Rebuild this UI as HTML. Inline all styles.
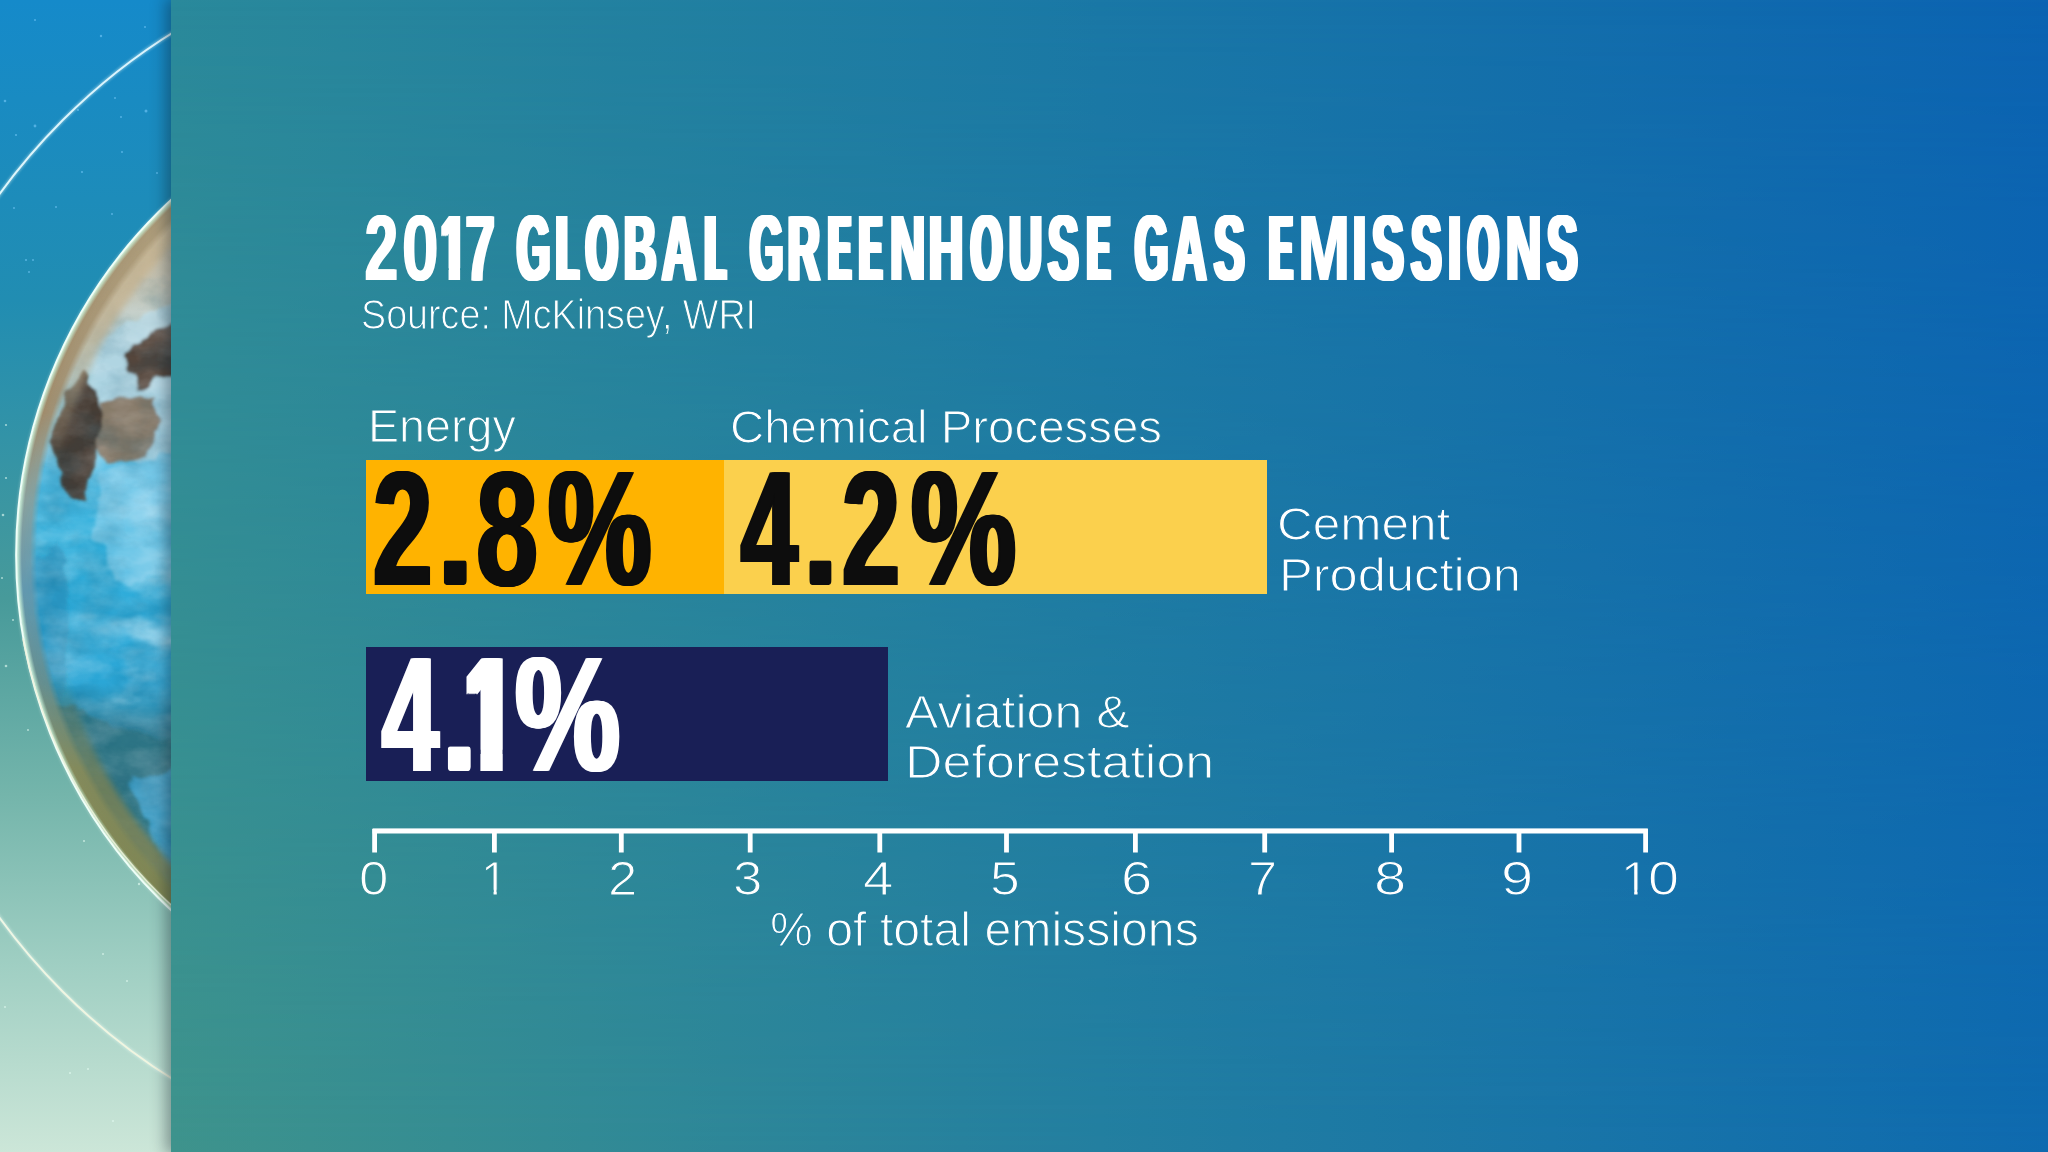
<!DOCTYPE html>
<html lang="en"><head><meta charset="utf-8"><title>2017 Global Greenhouse Gas Emissions</title>
<style>
html,body{margin:0;padding:0;background:#1a78a6;}
#stage{position:relative;width:2048px;height:1152px;overflow:hidden;font-family:'Liberation Sans',sans-serif;}
#bg{position:absolute;left:0;top:0;}
#panel{position:absolute;left:171px;top:0;width:1877px;height:1152px;
  background:linear-gradient(90deg,#2a899b 0%,#1a78a6 49.5%,#0b63b2 100%);box-shadow:-3px 0 14px 2px rgba(10,25,35,.40);}
#panel:after{content:"";position:absolute;inset:0;
  background:linear-gradient(90deg,#3e938c 0%,#237fa0 49.5%,#0e6aaf 100%);
  -webkit-mask-image:linear-gradient(180deg,transparent 0%,#000 100%);mask-image:linear-gradient(180deg,transparent 0%,#000 100%);}
.bar{position:absolute;}
.t{position:absolute;white-space:nowrap;line-height:1;transform-origin:0 0;color:#fff;font-weight:400;}
.g{position:absolute;white-space:nowrap;line-height:1;font-weight:700;word-spacing:0;letter-spacing:0;}
.g span{display:inline-block;vertical-align:baseline;transform-origin:0 0;}
#axis{position:absolute;left:0;top:0;}
</style></head><body>
<div id="stage">
<svg id="bg" width="2048" height="1152" viewBox="0 0 2048 1152">
<defs>
<linearGradient id="sky" x1="0" y1="0" x2="0" y2="1">
<stop offset="0" stop-color="#158aca"/><stop offset=".26" stop-color="#218db2"/><stop offset=".52" stop-color="#479a9a"/>
<stop offset=".69" stop-color="#74b5ab"/><stop offset=".84" stop-color="#a0cfc3"/><stop offset="1" stop-color="#cce6d8"/>
</linearGradient>
<radialGradient id="atm" cx="500.5" cy="555" r="484.1" gradientUnits="userSpaceOnUse">
<stop offset=".958" stop-color="#fff" stop-opacity="0"/><stop offset=".972" stop-color="#fff" stop-opacity=".9"/><stop offset=".988" stop-color="#fff" stop-opacity="1"/><stop offset="1" stop-color="#fff"/>
</radialGradient>
<radialGradient id="atm2" cx="500.5" cy="555" r="484.1" gradientUnits="userSpaceOnUse">
<stop offset=".989" stop-color="#c6f0d6" stop-opacity="0"/><stop offset=".996" stop-color="#c6f0d6" stop-opacity=".7"/><stop offset="1" stop-color="#dafbe8" stop-opacity=".9"/>
</radialGradient>
<mask id="am"><circle cx="500.5" cy="555" r="484.1" fill="url(#atm)"/></mask>
<linearGradient id="atmtint" x1="0" y1="200" x2="0" y2="910" gradientUnits="userSpaceOnUse">
<stop offset="0" stop-color="#ac9c7a"/><stop offset=".3" stop-color="#a08c6c"/><stop offset=".42" stop-color="#8aa09c"/><stop offset=".55" stop-color="#6398ae"/><stop offset=".68" stop-color="#688f8e"/><stop offset=".8" stop-color="#858b5c"/><stop offset="1" stop-color="#7f8652"/>
</linearGradient>
<linearGradient id="gbase" x1="0" y1="200" x2="0" y2="910" gradientUnits="userSpaceOnUse">
<stop offset="0" stop-color="#cdbb9f"/><stop offset=".12" stop-color="#c3c2b2"/><stop offset=".24" stop-color="#a9d2de"/>
<stop offset=".36" stop-color="#5cc0e6"/><stop offset=".48" stop-color="#32b0dc"/><stop offset=".68" stop-color="#2ba6d6"/><stop offset=".745" stop-color="#32829c"/>
<stop offset=".86" stop-color="#44796f"/><stop offset="1" stop-color="#5d7c5c"/>
</linearGradient>
<filter id="rough" x="-20%" y="-20%" width="140%" height="140%"><feTurbulence type="fractalNoise" baseFrequency=".03" numOctaves="3" seed="7" result="n"/><feDisplacementMap in="SourceGraphic" in2="n" scale="26" xChannelSelector="R" yChannelSelector="G"/><feGaussianBlur stdDeviation="1.8"/></filter>
<filter id="clouds" x="0" y="0" width="100%" height="100%"><feTurbulence type="fractalNoise" baseFrequency=".016 .034" numOctaves="4" seed="11"/><feColorMatrix type="matrix" values="0 0 0 0 .86  0 0 0 0 .95  0 0 0 0 1  2.3 0 0 0 -1.08"/><feGaussianBlur stdDeviation="1.2"/></filter>
<filter id="tex" x="0" y="0" width="100%" height="100%"><feTurbulence type="fractalNoise" baseFrequency=".022 .04" numOctaves="4" seed="3"/><feColorMatrix type="matrix" values="0 0 0 0 1  0 0 0 0 1  0 0 0 0 1  1.9 0 0 0 -.62"/></filter>
<filter id="texd" x="0" y="0" width="100%" height="100%"><feTurbulence type="fractalNoise" baseFrequency=".025 .035" numOctaves="4" seed="21"/><feColorMatrix type="matrix" values="0 0 0 0 0  0 0 0 0 .06  0 0 0 0 .12  0 1.9 0 0 -.68"/></filter>
<filter id="b4s" x="-5%" y="-5%" width="110%" height="110%"><feGaussianBlur stdDeviation="3"/></filter>
<filter id="b10" x="-40%" y="-40%" width="180%" height="180%"><feGaussianBlur stdDeviation="10"/></filter>
<filter id="g2" x="-10%" y="-10%" width="120%" height="120%"><feGaussianBlur stdDeviation="1.3"/></filter>
<linearGradient id="ringg" x1="0" y1="0" x2="0" y2="1152" gradientUnits="userSpaceOnUse"><stop offset="0" stop-color="#d8f3ff"/><stop offset=".45" stop-color="#e8fbf4"/><stop offset="1" stop-color="#f2f4dc"/></linearGradient>
<clipPath id="gc"><circle cx="500.5" cy="555" r="484.1"/></clipPath>
<clipPath id="strip"><rect width="176" height="1152"/></clipPath>
<linearGradient id="cmg" x1="0" x2="1"><stop offset=".15" stop-color="#555"/><stop offset=".8" stop-color="#fff"/></linearGradient><linearGradient id="limbg" x1="0" y1="200" x2="0" y2="910" gradientUnits="userSpaceOnUse"><stop offset="0" stop-color="#c9b896" stop-opacity=".95"/><stop offset=".17" stop-color="#c2b08e" stop-opacity=".75"/><stop offset=".38" stop-color="#b09a78" stop-opacity="0"/><stop offset=".66" stop-color="#6f7a50" stop-opacity="0"/><stop offset=".82" stop-color="#7a8154" stop-opacity=".8"/><stop offset="1" stop-color="#80865a" stop-opacity=".92"/></linearGradient>
<mask id="cm"><rect width="200" height="1152" fill="#000"/><rect x="0" y="300" width="200" height="420" fill="url(#cmg)" filter="url(#b10)"/></mask>
</defs>
<g clip-path="url(#strip)">
<rect width="200" height="1152" fill="url(#sky)"/>
<g fill="#7fcfff" opacity=".55">
<circle cx="35" cy="20" r="1"/><circle cx="101" cy="36" r="1.2"/><circle cx="145" cy="27" r="1"/><circle cx="5" cy="101" r="1.3"/><circle cx="35" cy="126" r="1.4"/><circle cx="16" cy="135" r="1.1"/><circle cx="146" cy="111" r="1.5"/><circle cx="121" cy="117" r="1"/><circle cx="115" cy="98" r="1"/><circle cx="122" cy="152" r="1"/><circle cx="82" cy="172" r="1.1"/><circle cx="14" cy="208" r="1"/><circle cx="56" cy="207" r="1"/><circle cx="26" cy="260" r="1.1"/><circle cx="33" cy="260" r="1"/><circle cx="29" cy="272" r="1"/><circle cx="112" cy="214" r="1"/><circle cx="78" cy="110" r="1"/><circle cx="157" cy="173" r="1"/>
</g>
<g fill="#e8fff6" opacity=".6">
<circle cx="6" cy="425" r="1.1"/><circle cx="6" cy="478" r="1.1"/><circle cx="3" cy="515" r="1.3"/><circle cx="2" cy="578" r="1"/><circle cx="13" cy="620" r="1"/><circle cx="6" cy="666" r="1.3"/><circle cx="28" cy="730" r="1"/><circle cx="84" cy="841" r="1.1"/><circle cx="139" cy="884" r="1.2"/><circle cx="103" cy="954" r="1"/><circle cx="127" cy="981" r="1"/><circle cx="5" cy="1007" r="1"/><circle cx="70" cy="1073" r="1.1"/><circle cx="88" cy="1069" r="1"/><circle cx="113" cy="1121" r="1"/>
</g>
<circle cx="498.7" cy="555.9" r="616.4" fill="none" stroke="#f2fff8" stroke-opacity=".35" stroke-width="4" filter="url(#g2)"/>
<circle cx="498.7" cy="555.9" r="616.4" fill="none" stroke="url(#ringg)" stroke-width="1.9"/>
<g clip-path="url(#gc)">
<rect x="0" y="190" width="200" height="730" fill="url(#gbase)"/>
<rect x="0" y="200" width="200" height="720" fill="#fff" filter="url(#clouds)" mask="url(#cm)" opacity=".62"/>
<g filter="url(#rough)">
<path d="M95 345 L180 300 L180 450 L150 462 L110 455 L92 420 Z" fill="#b2d6e4" opacity=".8"/>
<path d="M100 405 L150 392 L162 425 L150 455 L114 462 L96 445 Z" fill="#84725f" opacity=".92"/>
<path d="M66 392 L86 368 L97 392 L100 440 L90 478 L84 502 L68 490 L56 462 L58 425 Z" fill="#473d34"/>
<path d="M126 352 L180 316 L180 372 L150 376 L134 384 Z" fill="#4f3f34" opacity=".95"/>
<path d="M30 698 L180 744 L180 930 L30 930 Z" fill="#2f7686" opacity=".95"/>
<path d="M132 782 L180 770 L180 896 L168 888 L150 838 Z" fill="#3a9cc4"/>
<path d="M100 470 L180 455 L180 575 L128 590 L96 540 Z" fill="#8fd3ef" opacity=".55"/>
<path d="M30 560 L62 540 L70 640 L60 700 L30 700 Z" fill="#2a8cb8" opacity=".55"/>
</g>
<rect x="0" y="195" width="200" height="720" filter="url(#tex)" opacity=".2"/>
<rect x="0" y="195" width="200" height="720" filter="url(#texd)" opacity=".2"/>
<circle cx="500.5" cy="555" r="466" fill="none" stroke="url(#limbg)" stroke-width="30" filter="url(#b4s)"/>
<rect x="0" y="190" width="200" height="730" fill="url(#atmtint)" mask="url(#am)"/>
<circle cx="500.5" cy="555" r="484.1" fill="url(#atm2)"/>
</g>
<circle cx="500.5" cy="555" r="484.6" fill="none" stroke="#f4fff8" stroke-opacity=".22" stroke-width="3.4" filter="url(#g2)"/>
<circle cx="500.5" cy="555" r="484.4" fill="none" stroke="#effff8" stroke-width="1.9"/>
<path d="M19.5 640 A484.1 484.1 0 0 0 176 914" transform="translate(3.4 -1.6)" fill="none" stroke="#eef2da" stroke-opacity=".85" stroke-width="1.5"/>
</g>
</svg>

<div id="panel"></div>
<div class="bar" style="left:365.7px;top:460.2px;width:358.4px;height:134.2px;background:#ffb300"></div>
<div class="bar" style="left:724px;top:460.2px;width:542.9px;height:134.2px;background:#fbd04d"></div>
<div class="bar" style="left:365.8px;top:647.2px;width:522.2px;height:134.1px;background:#191f56"></div>
<svg id="axis" width="2048" height="1152" viewBox="0 0 2048 1152"><g fill="#fff"><rect x="372.6" y="828.4" width="1275.2" height="5.1"/><rect x="372.2" y="829" width="4.8" height="23.5"/><rect x="492.0" y="829" width="4.8" height="23.5"/><rect x="618.9" y="829" width="4.8" height="23.5"/><rect x="747.8" y="829" width="4.8" height="23.5"/><rect x="877.4" y="829" width="4.8" height="23.5"/><rect x="1004.1" y="829" width="4.8" height="23.5"/><rect x="1133.0" y="829" width="4.8" height="23.5"/><rect x="1262.3" y="829" width="4.8" height="23.5"/><rect x="1389.2" y="829" width="4.8" height="23.5"/><rect x="1516.6" y="829" width="4.8" height="23.5"/><rect x="1643.2" y="829" width="4.8" height="23.5"/></g></svg>
<div class="g ttl" style="left:365.31px;top:201.35px;font-size:93.5px;color:#fff;font-weight:700"><span style="width:36.47px;transform:scaleX(0.6290);text-shadow:2.06px 0 0 #fff,-2.06px 0 0 #fff;">2</span><span style="width:38.89px;transform:scaleX(0.7017);text-shadow:1.12px 0 0 #fff,-1.12px 0 0 #fff;">0</span><span style="width:25.71px;transform:scaleX(0.4732);text-shadow:1.87px 0 0 #fff,-1.87px 0 0 #fff,3.75px 0 0 #fff,-3.75px 0 0 #fff,5.62px 0 0 #fff,-5.62px 0 0 #fff;clip-path:polygon(-1em -1em,2em -1em,2em 0.716em,0.4321em 0.716em,0.4321em 2em,0.1704em 2em,0.1704em 0.716em,-1em 0.716em);">1</span><span style="width:24.74px;transform:scaleX(0.5467);text-shadow:1.71px 0 0 #fff,-1.71px 0 0 #fff,3.43px 0 0 #fff,-3.43px 0 0 #fff;">7</span> <span style="width:40.07px;transform:scaleX(0.4531);text-shadow:1.86px 0 0 #fff,-1.86px 0 0 #fff,3.72px 0 0 #fff,-3.72px 0 0 #fff,5.58px 0 0 #fff,-5.58px 0 0 #fff;">G</span><span style="width:28.93px;transform:scaleX(0.3662);text-shadow:2.14px 0 0 #fff,-2.14px 0 0 #fff,4.28px 0 0 #fff,-4.28px 0 0 #fff,6.42px 0 0 #fff,-6.42px 0 0 #fff,8.57px 0 0 #fff,-8.57px 0 0 #fff;">L</span><span style="width:38.35px;transform:scaleX(0.4343);text-shadow:2.04px 0 0 #fff,-2.04px 0 0 #fff,4.08px 0 0 #fff,-4.08px 0 0 #fff,6.12px 0 0 #fff,-6.12px 0 0 #fff;">O</span><span style="width:38.01px;transform:scaleX(0.4791);text-shadow:1.63px 0 0 #fff,-1.63px 0 0 #fff,3.27px 0 0 #fff,-3.27px 0 0 #fff,4.90px 0 0 #fff,-4.90px 0 0 #fff;">B</span><span style="width:43.34px;transform:scaleX(0.5021);text-shadow:2.18px 0 0 #fff,-2.18px 0 0 #fff,4.35px 0 0 #fff,-4.35px 0 0 #fff;">A</span><span style="width:17.91px;transform:scaleX(0.3294);text-shadow:2.06px 0 0 #fff,-2.06px 0 0 #fff,4.12px 0 0 #fff,-4.12px 0 0 #fff,6.18px 0 0 #fff,-6.18px 0 0 #fff,8.24px 0 0 #fff,-8.24px 0 0 #fff,10.30px 0 0 #fff,-10.30px 0 0 #fff;">L</span> <span style="width:38.70px;transform:scaleX(0.4531);text-shadow:1.86px 0 0 #fff,-1.86px 0 0 #fff,3.72px 0 0 #fff,-3.72px 0 0 #fff,5.58px 0 0 #fff,-5.58px 0 0 #fff;">G</span><span style="width:40.78px;transform:scaleX(0.4678);text-shadow:1.73px 0 0 #fff,-1.73px 0 0 #fff,3.46px 0 0 #fff,-3.46px 0 0 #fff,5.19px 0 0 #fff,-5.19px 0 0 #fff;">R</span><span style="width:31.18px;transform:scaleX(0.3385);text-shadow:1.97px 0 0 #fff,-1.97px 0 0 #fff,3.94px 0 0 #fff,-3.94px 0 0 #fff,5.90px 0 0 #fff,-5.90px 0 0 #fff,7.87px 0 0 #fff,-7.87px 0 0 #fff,9.84px 0 0 #fff,-9.84px 0 0 #fff;">E</span><span style="width:29.33px;transform:scaleX(0.3397);text-shadow:1.96px 0 0 #fff,-1.96px 0 0 #fff,3.91px 0 0 #fff,-3.91px 0 0 #fff,5.87px 0 0 #fff,-5.87px 0 0 #fff,7.82px 0 0 #fff,-7.82px 0 0 #fff,9.78px 0 0 #fff,-9.78px 0 0 #fff;">E</span><span style="width:39.62px;transform:scaleX(0.5220);text-shadow:1.96px 0 0 #fff,-1.96px 0 0 #fff,3.92px 0 0 #fff,-3.92px 0 0 #fff;">N</span><span style="width:41.36px;transform:scaleX(0.5049);text-shadow:2.14px 0 0 #fff,-2.14px 0 0 #fff,4.29px 0 0 #fff,-4.29px 0 0 #fff;">H</span><span style="width:38.61px;transform:scaleX(0.4275);text-shadow:2.11px 0 0 #fff,-2.11px 0 0 #fff,4.22px 0 0 #fff,-4.22px 0 0 #fff,6.33px 0 0 #fff,-6.33px 0 0 #fff;">O</span><span style="width:39.28px;transform:scaleX(0.4907);text-shadow:1.54px 0 0 #fff,-1.54px 0 0 #fff,3.08px 0 0 #fff,-3.08px 0 0 #fff,4.62px 0 0 #fff,-4.62px 0 0 #fff;">U</span><span style="width:39.60px;transform:scaleX(0.4905);text-shadow:1.54px 0 0 #fff,-1.54px 0 0 #fff,3.08px 0 0 #fff,-3.08px 0 0 #fff,4.62px 0 0 #fff,-4.62px 0 0 #fff;">S</span><span style="width:21.02px;transform:scaleX(0.3385);text-shadow:1.97px 0 0 #fff,-1.97px 0 0 #fff,3.94px 0 0 #fff,-3.94px 0 0 #fff,5.90px 0 0 #fff,-5.90px 0 0 #fff,7.87px 0 0 #fff,-7.87px 0 0 #fff,9.84px 0 0 #fff,-9.84px 0 0 #fff;">E</span> <span style="width:38.45px;transform:scaleX(0.4531);text-shadow:1.86px 0 0 #fff,-1.86px 0 0 #fff,3.72px 0 0 #fff,-3.72px 0 0 #fff,5.58px 0 0 #fff,-5.58px 0 0 #fff;">G</span><span style="width:41.03px;transform:scaleX(0.4937);text-shadow:1.51px 0 0 #fff,-1.51px 0 0 #fff,3.03px 0 0 #fff,-3.03px 0 0 #fff,4.54px 0 0 #fff,-4.54px 0 0 #fff;">A</span><span style="width:29.88px;transform:scaleX(0.4905);text-shadow:1.54px 0 0 #fff,-1.54px 0 0 #fff,3.08px 0 0 #fff,-3.08px 0 0 #fff,4.62px 0 0 #fff,-4.62px 0 0 #fff;">S</span> <span style="width:27.36px;transform:scaleX(0.3487);text-shadow:1.87px 0 0 #fff,-1.87px 0 0 #fff,3.74px 0 0 #fff,-3.74px 0 0 #fff,5.61px 0 0 #fff,-5.61px 0 0 #fff,7.48px 0 0 #fff,-7.48px 0 0 #fff,9.35px 0 0 #fff,-9.35px 0 0 #fff;">E</span><span style="width:51.73px;transform:scaleX(0.6673);text-shadow:1.54px 0 0 #fff,-1.54px 0 0 #fff;">M</span><span style="width:22.95px;transform:scaleX(0.8071);">I</span><span style="width:38.89px;transform:scaleX(0.5095);text-shadow:2.09px 0 0 #fff,-2.09px 0 0 #fff,4.19px 0 0 #fff,-4.19px 0 0 #fff;">S</span><span style="width:33.22px;transform:scaleX(0.4905);text-shadow:1.54px 0 0 #fff,-1.54px 0 0 #fff,3.08px 0 0 #fff,-3.08px 0 0 #fff,4.62px 0 0 #fff,-4.62px 0 0 #fff;">S</span><span style="width:24.07px;transform:scaleX(0.8143);">I</span><span style="width:37.73px;transform:scaleX(0.4196);text-shadow:2.19px 0 0 #fff,-2.19px 0 0 #fff,4.39px 0 0 #fff,-4.39px 0 0 #fff,6.58px 0 0 #fff,-6.58px 0 0 #fff;">O</span><span style="width:41.28px;transform:scaleX(0.5220);text-shadow:1.96px 0 0 #fff,-1.96px 0 0 #fff,3.92px 0 0 #fff,-3.92px 0 0 #fff;">N</span><span style="transform:scaleX(0.4905);text-shadow:1.54px 0 0 #fff,-1.54px 0 0 #fff,3.08px 0 0 #fff,-3.08px 0 0 #fff,4.62px 0 0 #fff,-4.62px 0 0 #fff;">S</span></div>
<div class="t lt" style="left:361.49px;top:294.25px;font-size:41.7px;transform:scaleX(0.9040);-webkit-text-stroke:1.1px #28849c;">Source: McKinsey, WRI</div>
<div class="t lt" style="left:368.44px;top:402.48px;font-size:47.1px;transform:scaleX(0.9903);-webkit-text-stroke:1.1px #2c879a;">Energy</div>
<div class="g num" style="left:373.42px;top:446.82px;font-size:163px;color:#0d0d0d;font-weight:700"><span style="width:59.32px;transform:scaleX(0.6545);text-shadow:1.45px 0 0 #0d0d0d,-1.45px 0 0 #0d0d0d,2.90px 0 0 #0d0d0d,-2.90px 0 0 #0d0d0d;">2</span><span style="width:43.35px;transform:scaleX(0.9870);clip-path:path('M16.0 112.5H29.0Q34.5 112.5 34.5 118.0V133.0Q34.5 138.5 29.0 138.5H16.0Q10.5 138.5 10.5 133.0V118.0Q10.5 112.5 16.0 112.5Z');">.</span><span style="width:72.30px;transform:scaleX(0.6860);text-shadow:1.11px 0 0 #0d0d0d,-1.11px 0 0 #0d0d0d,2.21px 0 0 #0d0d0d,-2.21px 0 0 #0d0d0d;">8</span><span style="transform:scaleX(0.7146);text-shadow:1.57px 0 0 #0d0d0d,-1.57px 0 0 #0d0d0d,3.15px 0 0 #0d0d0d,-3.15px 0 0 #0d0d0d;">%</span></div>
<div class="t lt" style="left:730.48px;top:402.88px;font-size:47.1px;transform:scaleX(1.0064);-webkit-text-stroke:1.1px #217ea1;">Chemical Processes</div>
<div class="g num" style="left:740.52px;top:446.82px;font-size:163px;color:#0d0d0d;font-weight:700"><span style="width:58.80px;transform:scaleX(0.6234);text-shadow:1.82px 0 0 #0d0d0d,-1.82px 0 0 #0d0d0d,3.64px 0 0 #0d0d0d,-3.64px 0 0 #0d0d0d;">4</span><span style="width:42.27px;transform:scaleX(0.9522);clip-path:path('M16.0 112.5H29.0Q34.5 112.5 34.5 118.0V133.0Q34.5 138.5 29.0 138.5H16.0Q10.5 138.5 10.5 133.0V118.0Q10.5 112.5 16.0 112.5Z');">.</span><span style="width:69.15px;transform:scaleX(0.6382);text-shadow:1.64px 0 0 #0d0d0d,-1.64px 0 0 #0d0d0d,3.28px 0 0 #0d0d0d,-3.28px 0 0 #0d0d0d;">2</span><span style="transform:scaleX(0.7255);text-shadow:1.55px 0 0 #0d0d0d,-1.55px 0 0 #0d0d0d,3.10px 0 0 #0d0d0d,-3.10px 0 0 #0d0d0d;">%</span></div>
<div class="t lt" style="left:1276.85px;top:500.48px;font-size:47.1px;transform:scaleX(1.0509);-webkit-text-stroke:1.1px #1975a7;">Cement</div>
<div class="t lt" style="left:1278.70px;top:550.98px;font-size:47.1px;transform:scaleX(1.0748);-webkit-text-stroke:1.1px #1975a7;">Production</div>
<div class="g num" style="left:382.12px;top:633.02px;font-size:163px;color:#fff;font-weight:700"><span style="width:54.52px;transform:scaleX(0.6234);text-shadow:1.82px 0 0 #fff,-1.82px 0 0 #fff,3.64px 0 0 #fff,-3.64px 0 0 #fff;">4</span><span style="width:29.80px;transform:scaleX(0.9870);clip-path:path('M16.0 112.5H29.0Q34.5 112.5 34.5 118.0V133.0Q34.5 138.5 29.0 138.5H16.0Q10.5 138.5 10.5 133.0V118.0Q10.5 112.5 16.0 112.5Z');">.</span><span style="width:48.41px;transform:scaleX(0.5205);text-shadow:1.99px 0 0 #fff,-1.99px 0 0 #fff,3.97px 0 0 #fff,-3.97px 0 0 #fff,5.96px 0 0 #fff,-5.96px 0 0 #fff,7.94px 0 0 #fff,-7.94px 0 0 #fff,9.93px 0 0 #fff,-9.93px 0 0 #fff;clip-path:polygon(-1em -1em,2em -1em,2em 0.716em,0.4329em 0.716em,0.4329em 2em,0.1696em 2em,0.1696em 0.716em,-1em 0.716em);">1</span><span style="transform:scaleX(0.7255);text-shadow:1.55px 0 0 #fff,-1.55px 0 0 #fff,3.10px 0 0 #fff,-3.10px 0 0 #fff;">%</span></div>
<div class="t lt" style="left:905.34px;top:687.78px;font-size:47.1px;transform:scaleX(1.0636);-webkit-text-stroke:1.1px #227ea1;">Aviation &amp;</div>
<div class="t lt" style="left:905.48px;top:737.88px;font-size:47.1px;transform:scaleX(1.1040);-webkit-text-stroke:1.1px #217da1;">Deforestation</div>
<div class="t lt" style="left:358.73px;top:854.23px;font-size:48.7px;transform:scaleX(1.0870);-webkit-text-stroke:1.1px #348c93;">0</div>
<div class="g axl" style="left:480.66px;top:853.68px;font-size:48.7px;color:#fff;font-weight:400"><span style="transform:scaleX(0.9806);clip-path:polygon(-1em -1em,2em -1em,2em 0.742em,0.3297em 0.742em,0.3297em 2em,0.2628em 2em,0.2628em 0.742em,-1em 0.742em);-webkit-text-stroke:1.1px #318a96;">1</span></div>
<div class="t lt" style="left:608.46px;top:854.23px;font-size:48.7px;transform:scaleX(1.0810);-webkit-text-stroke:1.1px #2d8798;">2</div>
<div class="t lt" style="left:732.66px;top:854.23px;font-size:48.7px;transform:scaleX(1.0810);-webkit-text-stroke:1.1px #2a859b;">3</div>
<div class="t lt" style="left:862.56px;top:854.23px;font-size:48.7px;transform:scaleX(1.1217);-webkit-text-stroke:1.1px #27829d;">4</div>
<div class="t lt" style="left:989.70px;top:854.23px;font-size:48.7px;transform:scaleX(1.1000);-webkit-text-stroke:1.1px #237fa0;">5</div>
<div class="t lt" style="left:1120.74px;top:854.23px;font-size:48.7px;transform:scaleX(1.1524);-webkit-text-stroke:1.1px #207da2;">6</div>
<div class="t lt" style="left:1248.37px;top:854.23px;font-size:48.7px;transform:scaleX(1.0762);-webkit-text-stroke:1.1px #1e7aa4;">7</div>
<div class="t lt" style="left:1374.23px;top:854.23px;font-size:48.7px;transform:scaleX(1.1905);-webkit-text-stroke:1.1px #1b77a6;">8</div>
<div class="t lt" style="left:1500.83px;top:854.23px;font-size:48.7px;transform:scaleX(1.1905);-webkit-text-stroke:1.1px #1874a8;">9</div>
<div class="g axl" style="left:1620.53px;top:853.68px;font-size:48.7px;color:#fff;font-weight:400"><span style="width:27.98px;transform:scaleX(1.0309);clip-path:polygon(-1em -1em,2em -1em,2em 0.742em,0.3297em 0.742em,0.3297em 2em,0.2628em 2em,0.2628em 0.742em,-1em 0.742em);-webkit-text-stroke:1.1px #1672a9;">1</span><span style="transform:scaleX(1.1435);-webkit-text-stroke:1.1px #1571aa;">0</span></div>
<div class="t lt" style="left:770.37px;top:906.46px;font-size:47.6px;transform:scaleX(1.0131);-webkit-text-stroke:1.1px #24809f;">% of total emissions</div>
</div>
</body></html>
